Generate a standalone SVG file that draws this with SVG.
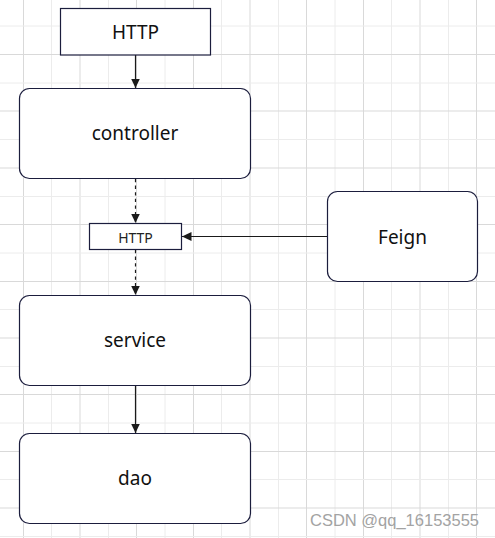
<svg xmlns="http://www.w3.org/2000/svg" width="495" height="538" viewBox="0 0 495 538">
<style>
.gd{stroke:#d9d9d9;stroke-width:1}
.gl{stroke:#ececec;stroke-width:1}
.box{fill:#ffffff;stroke:#1b1d3d;stroke-width:1.2}
.lbl{font-family:"Noto Sans","Open Sans",sans-serif;font-size:19px;fill:#111111;text-anchor:middle}
.sm{font-family:"Noto Sans","Open Sans",sans-serif;font-size:14px;fill:#222222;text-anchor:middle}
.ln{stroke:#1a1a1a;stroke-width:1.2;fill:none}
.dash{stroke-dasharray:3.3,3.3}
.wm{font-family:"Liberation Sans",Arial,sans-serif;font-size:16.5px;fill:#a3a3a3}
</style>
<defs>
<marker id="ah" markerWidth="10" markerHeight="10" refX="9.5" refY="5" orient="auto" markerUnits="userSpaceOnUse">
<path d="M0,0.5 L9.5,5 L0,9.5 Z" fill="#1a1a1a"/>
</marker>
</defs>
<rect width="495" height="538" fill="#ffffff"/>
<g id="grid">
<line class="gd" x1="23.5" y1="0" x2="23.5" y2="538"/>
<line class="gl" x1="51.5" y1="0" x2="51.5" y2="538"/>
<line class="gd" x1="80" y1="0" x2="80" y2="538"/>
<line class="gl" x1="108.5" y1="0" x2="108.5" y2="538"/>
<line class="gd" x1="136.5" y1="0" x2="136.5" y2="538"/>
<line class="gl" x1="165" y1="0" x2="165" y2="538"/>
<line class="gd" x1="193.5" y1="0" x2="193.5" y2="538"/>
<line class="gl" x1="221.5" y1="0" x2="221.5" y2="538"/>
<line class="gd" x1="250" y1="0" x2="250" y2="538"/>
<line class="gl" x1="278.5" y1="0" x2="278.5" y2="538"/>
<line class="gd" x1="306.5" y1="0" x2="306.5" y2="538"/>
<line class="gl" x1="335" y1="0" x2="335" y2="538"/>
<line class="gd" x1="363.5" y1="0" x2="363.5" y2="538"/>
<line class="gl" x1="391.5" y1="0" x2="391.5" y2="538"/>
<line class="gd" x1="420" y1="0" x2="420" y2="538"/>
<line class="gl" x1="448.5" y1="0" x2="448.5" y2="538"/>
<line class="gd" x1="476.5" y1="0" x2="476.5" y2="538"/>
<line class="gl" x1="0" y1="26" x2="495" y2="26"/>
<line class="gd" x1="0" y1="54.5" x2="495" y2="54.5"/>
<line class="gl" x1="0" y1="83" x2="495" y2="83"/>
<line class="gd" x1="0" y1="111" x2="495" y2="111"/>
<line class="gl" x1="0" y1="139.5" x2="495" y2="139.5"/>
<line class="gd" x1="0" y1="168" x2="495" y2="168"/>
<line class="gl" x1="0" y1="196.5" x2="495" y2="196.5"/>
<line class="gd" x1="0" y1="224.5" x2="495" y2="224.5"/>
<line class="gl" x1="0" y1="253" x2="495" y2="253"/>
<line class="gd" x1="0" y1="281.5" x2="495" y2="281.5"/>
<line class="gl" x1="0" y1="309.5" x2="495" y2="309.5"/>
<line class="gd" x1="0" y1="338" x2="495" y2="338"/>
<line class="gl" x1="0" y1="366.5" x2="495" y2="366.5"/>
<line class="gd" x1="0" y1="394.5" x2="495" y2="394.5"/>
<line class="gl" x1="0" y1="423" x2="495" y2="423"/>
<line class="gd" x1="0" y1="451.5" x2="495" y2="451.5"/>
<line class="gl" x1="0" y1="479.5" x2="495" y2="479.5"/>
<line class="gd" x1="0" y1="508" x2="495" y2="508"/>
<line class="gl" x1="0" y1="536.5" x2="495" y2="536.5"/>
</g>
<g id="connectors">
<line class="ln" x1="135.5" y1="55" x2="135.5" y2="88" marker-end="url(#ah)"/>
<line class="ln dash" x1="135.5" y1="179" x2="135.5" y2="223" marker-end="url(#ah)"/>
<line class="ln dash" x1="135.5" y1="250" x2="135.5" y2="295" marker-end="url(#ah)"/>
<line class="ln" x1="327" y1="236.5" x2="182" y2="236.5" marker-end="url(#ah)"/>
<line class="ln" x1="135.5" y1="385" x2="135.5" y2="433" marker-end="url(#ah)"/>
</g>
<g id="node-http-top">
<rect class="box" x="60.5" y="8.5" width="150" height="46.5"/>
<text class="lbl" x="135.5" y="38.5">HTTP</text>
</g>
<g id="node-controller">
<rect class="box" x="19.5" y="88.5" width="231" height="90" rx="10" ry="10"/>
<text class="lbl" x="135" y="140">controller</text>
</g>
<g id="node-http-mid">
<rect class="box" x="89.5" y="223.5" width="92" height="26"/>
<text class="sm" x="135.5" y="242.5">HTTP</text>
</g>
<g id="node-feign">
<rect class="box" x="327.5" y="191.5" width="150" height="90" rx="10" ry="10"/>
<text class="lbl" x="402.5" y="244">Feign</text>
</g>
<g id="node-service">
<rect class="box" x="19.5" y="295.5" width="231" height="90" rx="10" ry="10"/>
<text class="lbl" x="135" y="347">service</text>
</g>
<g id="node-dao">
<rect class="box" x="19.5" y="433.5" width="231" height="90" rx="10" ry="10"/>
<text class="lbl" x="135" y="485">dao</text>
</g>
<text class="wm" x="310" y="525.5">CSDN @qq_16153555</text>
</svg>
